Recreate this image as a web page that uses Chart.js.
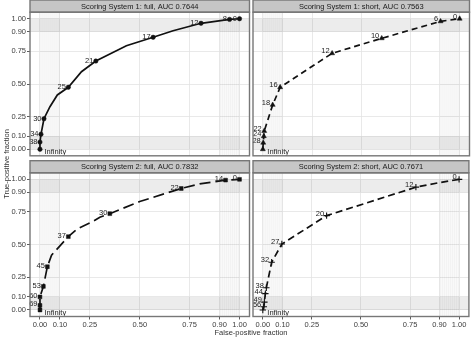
<!DOCTYPE html>
<html>
<head>
<meta charset="utf-8">
<script src="https://cdn.jsdelivr.net/npm/chart.js@4.4.1/dist/chart.umd.min.js"></script>
<style>
  html, body { margin: 0; padding: 0; background: #fff; }
  #wrap { position: relative; width: 474px; height: 339px; }
  #wrap canvas { position: absolute; left: 0; top: 0; }
</style>
</head>
<body>
<div id="wrap">
  <canvas id="p1" width="474" height="339"></canvas>
  <canvas id="p2" width="474" height="339"></canvas>
  <canvas id="p3" width="474" height="339"></canvas>
  <canvas id="p4" width="474" height="339"></canvas>
</div>
<script>
// ROC curves, one panel per scoring system / version.
// cut = threshold shown next to the vertex ('' = vertex without marker)
const s1FullCut = ['Infinity', '38', '34', '30', '', '', '25', '', '21', '', '17', '', '12', '8', '0'];
const s1FullFpf = [0, 0, 0.005, 0.02, 0.05, 0.087, 0.142, 0.208, 0.28, 0.433, 0.567, 0.667, 0.807, 0.95, 1];
const s1FullTpf = [0, 0.055, 0.115, 0.234, 0.326, 0.416, 0.475, 0.594, 0.676, 0.793, 0.858, 0.908, 0.965, 0.995, 1];

const s1ShortCut = ['Infinity', '28', '24', '22', '18', '16', '12', '10', '6', '0'];
const s1ShortFpf = [0, 0.002, 0.005, 0.007, 0.05, 0.088, 0.352, 0.604, 0.903, 1];
const s1ShortTpf = [0, 0.05, 0.10, 0.14, 0.34, 0.475, 0.735, 0.85, 0.98, 1];

const s2FullCut = ['Infinity', '69', '60', '53', '45', '', '37', '', '', '', '30', '', '22', '', '14', '0'];
const s2FullFpf = [0, 0, 0, 0.017, 0.037, 0.058, 0.142, 0.187, 0.267, 0.3, 0.35, 0.5, 0.708, 0.8, 0.93, 1];
const s2FullTpf = [0, 0.035, 0.1, 0.18, 0.331, 0.42, 0.561, 0.62, 0.68, 0.71, 0.737, 0.83, 0.93, 0.965, 0.994, 1];

const s2ShortCut = ['Infinity', '56', '49', '44', '38', '32', '27', '20', '12', '', '0'];
const s2ShortFpf = [0, 0.005, 0.008, 0.013, 0.018, 0.045, 0.097, 0.325, 0.78, 0.9, 1];
const s2ShortTpf = [0, 0.025, 0.06, 0.125, 0.17, 0.365, 0.505, 0.722, 0.94, 0.975, 1];

const axisTicks = [0, 0.1, 0.25, 0.5, 0.75, 0.9, 1];
const shadeBands = [[0, 0.1], [0.9, 1]];

const FONT = '"Liberation Sans", Arial, sans-serif';
const FS = 7.5;
const W = 474, H = 339;

const panels = [
  { id: 'p1', title: 'Scoring System 1: full, AUC 0.7644', cut: s1FullCut, fpf: s1FullFpf, tpf: s1FullTpf,
    box: [30, 12.2, 249.5, 155.8], strip: 0, showX: false, showY: true, dash: [], point: 'circle', r: 2.2, ldy: 0 },
  { id: 'p2', title: 'Scoring System 1: short, AUC 0.7563', cut: s1ShortCut, fpf: s1ShortFpf, tpf: s1ShortTpf,
    box: [253, 12.2, 472.5, 155.8], strip: 0, showX: false, showY: false, dash: [6, 4], point: 'triangle', r: 2.9, ldy: -2 },
  { id: 'p3', title: 'Scoring System 2: full, AUC 0.7832', cut: s2FullCut, fpf: s2FullFpf, tpf: s2FullTpf,
    box: [30, 172.8, 249.5, 316.5], strip: 160.7, showX: true, showY: true, dash: [11, 5], point: 'rect', r: 2.7, ldy: -1, titles: true },
  { id: 'p4', title: 'Scoring System 2: short, AUC 0.7671', cut: s2ShortCut, fpf: s2ShortFpf, tpf: s2ShortTpf,
    box: [253, 172.8, 472.5, 316.5], strip: 160.7, showX: true, showY: false, dash: [7, 4], point: 'cross', r: 3.2, ldy: -2 }
];

function setTicks(scale) {
  scale.ticks = axisTicks.map(v => ({ value: v }));
}

function decoPlugin(p) {
  return {
    id: 'deco',
    beforeDatasetsDraw(chart) {
      const { ctx, chartArea: a, scales: { x, y } } = chart;
      ctx.save();
      ctx.beginPath();
      ctx.rect(a.left, a.top, a.width, a.height);
      ctx.clip();
      // grey bands near 0 and 1 on both axes
      ctx.fillStyle = 'rgba(0,0,0,0.075)';
      shadeBands.forEach(([lo, hi]) => {
        const y0 = y.getPixelForValue(hi), y1 = y.getPixelForValue(lo);
        ctx.fillRect(a.left, y0, a.width, y1 - y0);
      });
      shadeBands.forEach(([lo, hi]) => {
        const x0 = x.getPixelForValue(lo), x1 = x.getPixelForValue(hi);
        ctx.fillStyle = 'rgba(0,0,0,0.025)';
        ctx.fillRect(x0, a.top, x1 - x0, a.height);
        ctx.strokeStyle = 'rgba(0,0,0,0.06)';
        ctx.lineWidth = 0.6;
        for (let xx = x0 + 1; xx < x1; xx += 2) {
          ctx.beginPath();
          ctx.moveTo(xx, a.top);
          ctx.lineTo(xx, a.bottom);
          ctx.stroke();
        }
      });
      ctx.restore();
    },
    afterDatasetsDraw(chart) {
      const ctx = chart.ctx;
      const meta = chart.getDatasetMeta(0);
      ctx.save();
      ctx.font = FS + 'px ' + FONT;
      ctx.fillStyle = '#222';
      ctx.textBaseline = 'middle';
      p.cut.forEach((c, i) => {
        if (!c) return;
        const pt = meta.data[i];
        if (c === 'Infinity') {
          ctx.textAlign = 'left';
          ctx.fillText(c, pt.x + 4.5, pt.y + 3);
        } else {
          ctx.textAlign = 'right';
          ctx.fillText(c, pt.x - 2.5, pt.y + p.ldy);
        }
      });
      ctx.restore();
    },
    afterDraw(chart) {
      const { ctx, chartArea: a } = chart;
      ctx.save();
      // facet strip + panel frame
      ctx.fillStyle = '#c6c6c6';
      ctx.fillRect(a.left, p.strip, a.width, a.top - p.strip);
      ctx.strokeStyle = '#777';
      ctx.lineWidth = 1.4;
      ctx.strokeRect(a.left, p.strip, a.width, a.top - p.strip);
      ctx.strokeRect(a.left, a.top, a.width, a.height);
      ctx.fillStyle = '#1a1a1a';
      ctx.font = FS + 'px ' + FONT;
      ctx.textAlign = 'center';
      ctx.textBaseline = 'middle';
      ctx.fillText(p.title, (a.left + a.right) / 2, (p.strip + a.top) / 2 + 0.5);

      if (p.titles) {
        ctx.fillStyle = '#333';
        ctx.fillText('False-positive fraction', 251, 333);
        ctx.translate(6.5, 164);
        ctx.rotate(-Math.PI / 2);
        ctx.fillText('True-positive fraction', 0, 0);
      }
      ctx.restore();
    }
  };
}

panels.forEach(p => {
  const yw = p.showY ? 30 : 0;
  const xh = p.showX ? 12 : 0;
  const tickFont = { family: FONT, size: FS };
  new Chart(document.getElementById(p.id), {
    type: 'line',
    data: {
      datasets: [{
        data: p.fpf.map((v, i) => ({ x: v, y: p.tpf[i] })),
        borderColor: '#111',
        borderWidth: 1.7,
        borderDash: p.dash,
        tension: 0,
        fill: false,
        pointStyle: p.point,
        pointRadius: c => (p.cut[c.dataIndex] ? p.r : 0),
        pointBackgroundColor: '#111',
        pointBorderColor: '#111',
        pointBorderWidth: p.point === 'cross' ? 1.1 : 0.5
      }]
    },
    options: {
      responsive: false,
      animation: false,
      devicePixelRatio: 1,
      events: [],
      layout: {
        padding: { left: p.box[0] - yw, top: p.box[1], right: W - p.box[2], bottom: H - p.box[3] - xh }
      },
      plugins: { legend: { display: false }, tooltip: { enabled: false } },
      scales: {
        x: {
          type: 'linear', min: -0.05, max: 1.05,
          afterBuildTicks: setTicks,
          afterFit: s => { s.height = xh; },
          border: { display: false },
          grid: { color: '#e3e3e3', lineWidth: 0.8, drawTicks: p.showX, tickLength: 3, tickColor: '#333', tickWidth: 0.8 },
          ticks: { display: p.showX, autoSkip: false, maxRotation: 0, padding: 1, color: '#3d3d3d', font: tickFont,
                   callback: v => Number(v).toFixed(2) }
        },
        y: {
          type: 'linear', min: -0.05, max: 1.05,
          afterBuildTicks: setTicks,
          afterFit: s => { s.width = yw; },
          border: { display: false },
          grid: { color: '#e3e3e3', lineWidth: 0.8, drawTicks: p.showY, tickLength: 3, tickColor: '#333', tickWidth: 0.8 },
          ticks: { display: p.showY, autoSkip: false, padding: 1, color: '#3d3d3d', font: tickFont,
                   callback: v => Number(v).toFixed(2) }
        }
      }
    },
    plugins: [decoPlugin(p)]
  });
});
</script>
</body>
</html>
